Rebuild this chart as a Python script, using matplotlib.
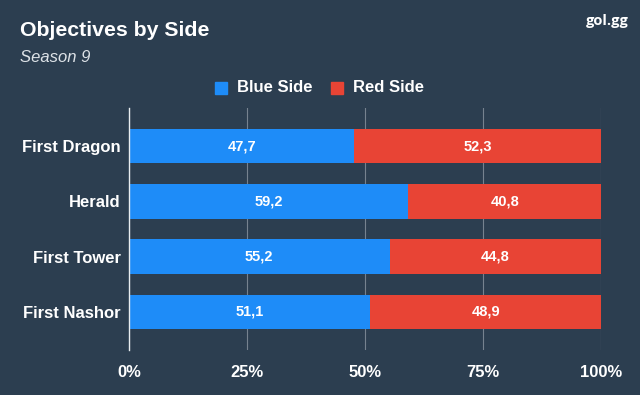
import matplotlib
matplotlib.use("Agg")
import matplotlib.pyplot as plt
from matplotlib.patches import Rectangle

categories = ["First Dragon", "Herald", "First Tower", "First Nashor"]
blue_side = [47.7, 59.2, 55.2, 51.1]
red_side = [52.3, 40.8, 44.8, 48.9]
xticks = [0, 25, 50, 75, 100]
xticklabels = ["0%", "25%", "50%", "75%", "100%"]

BG = "#2c3e50"
BLUE = "#1e8cf8"
RED = "#e84435"
FONT = "Liberation Sans"

fig = plt.figure(figsize=(6.4, 3.95), dpi=100, facecolor=BG)
ax = fig.add_axes([129/640, 1-350/395, (601-129)/640, (350-108)/395])
ax.set_facecolor(BG)

y = list(range(len(categories)))
ax.barh(y, blue_side, height=0.62, color=BLUE, zorder=3)
ax.barh(y, red_side, left=blue_side, height=0.62, color=RED, zorder=3)

for i in y:
    ax.text(blue_side[i]/2, i, f"{blue_side[i]:.1f}".replace(".", ","), ha="center", va="center",
            color="white", fontsize=10.5, fontweight="bold", family=FONT, zorder=4)
    ax.text(blue_side[i] + red_side[i]/2, i, f"{red_side[i]:.1f}".replace(".", ","), ha="center", va="center",
            color="white", fontsize=10.5, fontweight="bold", family=FONT, zorder=4)

ax.set_xlim(0, 100)
ax.set_ylim(3.69, -0.69)
ax.set_xticks(xticks)
ax.set_xticklabels(xticklabels)
ax.set_yticks(y)
ax.set_yticklabels(categories)
ax.tick_params(length=0)
for lab in ax.get_xticklabels() + ax.get_yticklabels():
    lab.set_color("white")
    lab.set_fontweight("bold")
    lab.set_family(FONT)
    lab.set_fontsize(12)
ax.tick_params(axis="y", pad=6)
ax.tick_params(axis="x", pad=11)
ax.grid(axis="x", color="#76828f", linewidth=0.8, zorder=0)
for s in ["top", "right", "bottom"]:
    ax.spines[s].set_visible(False)
ax.spines["left"].set_color("#e8ecef")
ax.spines["left"].set_linewidth(1)
ax.spines["left"].set_zorder(5)

fig.text(20/640, 1-31/395, "Objectives by Side", color="white", fontsize=15.3, fontweight="bold",
         family=FONT, va="center", ha="left")
fig.text(20/640, 1-57/395, "Season 9", color="#dde2e7", fontsize=12, style="italic",
         family=FONT, va="center", ha="left")
fig.text(629/640, 1-21/395, "gol.gg", color="white", fontsize=10.5, fontweight="bold",
         family="Open Sans", va="center", ha="right")

# legend
fig.patches.append(Rectangle((215/640, 1-94/395), 12/640, 12/395, transform=fig.transFigure,
                             color=BLUE, figure=fig))
fig.text(237/640, 1-88/395, "Blue Side", color="white", fontsize=12, fontweight="bold",
         family=FONT, va="center", ha="left")
fig.patches.append(Rectangle((331/640, 1-94/395), 12/640, 12/395, transform=fig.transFigure,
                             color=RED, figure=fig))
fig.text(353/640, 1-88/395, "Red Side", color="white", fontsize=12, fontweight="bold",
         family=FONT, va="center", ha="left")

fig.savefig("out.png", dpi=100, facecolor=BG)
